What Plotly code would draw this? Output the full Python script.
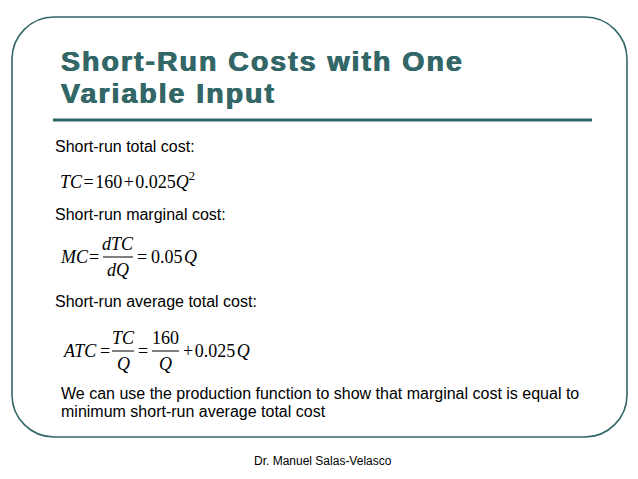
import plotly.graph_objects as go

W, H = 638, 479
TEAL = "#336767"

# slide text
title_lines = ["Short-Run Costs with One", "Variable Input"]
labels = ["Short-run total cost:", "Short-run marginal cost:", "Short-run average total cost:"]
body_lines = ["We can use the production function to show that marginal cost is equal to",
              "minimum short-run average total cost"]
footer = "Dr. Manuel Salas-Velasco"

fig = go.Figure()
HS = "&#8202;"  # hair space for the equations

def txt(x, y, s, size=16, family="Liberation Sans", color="black", anchor="left", **kw):
    fig.add_annotation(x=x, y=y, text=s, showarrow=False, xanchor=anchor, yanchor="middle",
                       font=dict(family=family, size=size, color=color, **kw))

def math(x, y, s, size=18, anchor="left"):
    txt(x, y, s, size=size, family="Liberation Serif", anchor=anchor)

def frac_line(x0, x1, y):
    fig.add_shape(type="line", x0=x0, x1=x1, y0=y, y1=y, line=dict(color="black", width=1))

# rounded frame
l, r, t, b, rad = 12, 627, 17, 437, 42
k = rad * 0.55
path = (f"M {l+rad},{t} L {r-rad},{t} C {r-rad+k},{t} {r},{t+rad-k} {r},{t+rad} "
        f"L {r},{b-rad} C {r},{b-rad+k} {r-rad+k},{b} {r-rad},{b} "
        f"L {l+rad},{b} C {l+rad-k},{b} {l},{b-rad+k} {l},{b-rad} "
        f"L {l},{t+rad} C {l},{t+rad-k} {l+rad-k},{t} {l+rad},{t} Z")
fig.add_shape(type="path", path=path, line=dict(color=TEAL, width=1.6))

# title + rule (shadow thickens the strokes a little)
for i, line in enumerate(title_lines):
    txt(59, 61 + i * 32, '<b><span style="letter-spacing:2px">' + line + '</span></b>',
        size=28.5, color=TEAL, shadow=f"0.6px 0 0 {TEAL}, -0.4px 0 0 {TEAL}")
fig.add_shape(type="line", x0=53, x1=592, y0=120, y1=120, line=dict(color=TEAL, width=3))

# section labels
txt(53, 146, labels[0])
txt(53, 214, labels[1])
txt(53, 301, labels[2])

# TC
math(58, 180, f"<i>TC</i>{HS}={HS}160{HS}+{HS}0.025<i>Q</i><sup>2</sup>")

# MC
math(58, 257, "<i>MC</i>")
math(94, 257, "=", anchor="center")
math(118, 244, "<i>dTC</i>", anchor="center")
frac_line(103, 133, 257)
math(118, 270, "<i>dQ</i>", anchor="center")
math(142, 257, "=", anchor="center")
math(149, 257, f"0.05{HS}<i>Q</i>")

# ATC
math(61, 351, "<i>ATC</i>")
math(105, 351, "=", anchor="center")
math(123, 338, "<i>TC</i>", anchor="center")
frac_line(112, 134, 351)
math(123, 364, "<i>Q</i>", anchor="center")
math(143, 351, "=", anchor="center")
math(165, 338, "160", anchor="center")
frac_line(152, 179, 351)
math(165, 364, "<i>Q</i>", anchor="center")
math(181, 351, f"+{HS}0.025{HS}<i>Q</i>")

# body
txt(59, 393, body_lines[0])
txt(59, 411, body_lines[1])

# footer
txt(323, 461, footer, size=12, anchor="center")

fig.update_xaxes(range=[0, W], visible=False, fixedrange=True)
fig.update_yaxes(range=[H, 0], visible=False, fixedrange=True)
fig.update_layout(width=W, height=H, margin=dict(l=0, r=0, t=0, b=0),
                  plot_bgcolor="white", paper_bgcolor="white", showlegend=False)

fig.write_html("out.html", config={"displayModeBar": False},
               post_script="document.body.style.margin='0';")
